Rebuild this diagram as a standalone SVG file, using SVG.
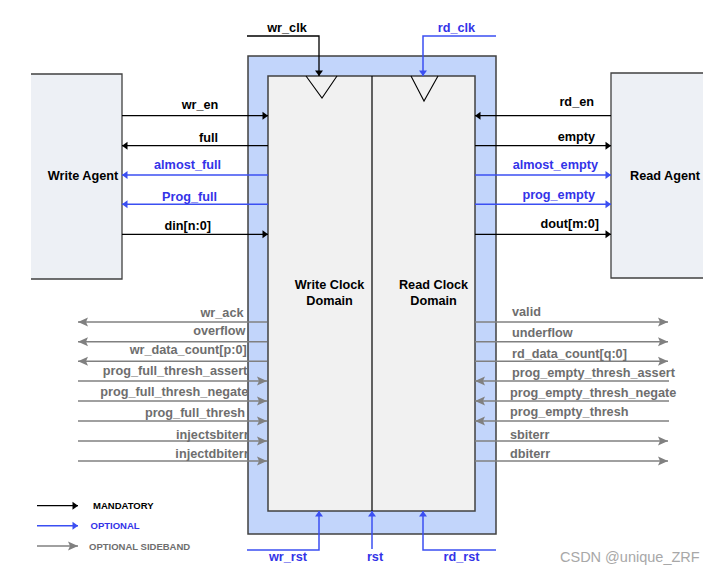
<svg xmlns="http://www.w3.org/2000/svg" width="721" height="575" viewBox="0 0 721 575">
<style>
text{font-family:"Liberation Sans",Arial,sans-serif;font-weight:bold;font-size:12.7px}
.k{fill:#000}
.b{fill:#3333e8}
.g{fill:#6e6e6e}
.lk{stroke:#000;stroke-width:1.3;fill:none}
.lb{stroke:#3b4ff2;stroke-width:1.5;fill:none}
.lg{stroke:#808080;stroke-width:1.6;fill:none}
.mk{marker-end:url(#ak)}
.mb{marker-end:url(#ab)}
.mg{marker-end:url(#ag)}
.leg{font-size:9.5px}
</style>
<defs>
<marker id="ak" markerUnits="userSpaceOnUse" markerWidth="6" markerHeight="9" refX="5.5" refY="4" orient="auto" overflow="visible"><path d="M0,0 L5.5,4 L0,8 z" fill="#000"/></marker>
<marker id="ab" markerUnits="userSpaceOnUse" markerWidth="6" markerHeight="9" refX="5.5" refY="4" orient="auto" overflow="visible"><path d="M0,0 L5.5,4 L0,8 z" fill="#3b4ff2"/></marker>
<marker id="ag" markerUnits="userSpaceOnUse" markerWidth="11" markerHeight="9" refX="10" refY="4.5" orient="auto" overflow="visible"><path d="M0,0 L10,4.5 L0,9 L2,4.5 z" fill="#808080"/></marker>
</defs>
<rect width="721" height="575" fill="#fff"/>

<g id="fifo">
<rect x="248" y="56" width="248" height="478" fill="#c2d5fb" stroke="#404040" stroke-width="1.5"/>
<rect x="268" y="76" width="207" height="435" fill="#f1f1f1" stroke="#404040" stroke-width="1.5"/>
<line x1="372" y1="76" x2="372" y2="511" stroke="#000" stroke-width="1.2"/>
<path d="M306,76 L322,98 L337,76" fill="none" stroke="#000" stroke-width="1.1"/>
<path d="M411,76 L424,101 L438,76" fill="none" stroke="#000" stroke-width="1.1"/>
<text x="329.5" y="289" text-anchor="middle" class="k">Write Clock</text>
<text x="329.5" y="305" text-anchor="middle" class="k">Domain</text>
<text x="433.5" y="289" text-anchor="middle" class="k">Read Clock</text>
<text x="433.5" y="305" text-anchor="middle" class="k">Domain</text>
</g>

<g id="write-agent">
<rect x="31" y="74" width="91" height="205" fill="#edf0f5"/>
<path d="M31,74 H122 V279 H31" fill="none" stroke="#404040" stroke-width="1.3"/>
<text x="83" y="180" text-anchor="middle" class="k">Write Agent</text>
</g>

<g id="read-agent">
<rect x="611" y="73" width="92" height="205" fill="#edf0f5"/>
<path d="M703,73 H611 V278 H703" fill="none" stroke="#404040" stroke-width="1.3"/>
<text x="665" y="180" text-anchor="middle" class="k">Read Agent</text>
</g>

<g id="connectors">
<!-- clocks -->
<path d="M247,36 H319 V76" class="lk mk"/>
<path d="M496,36 H423 V76" class="lb mb"/>
<!-- resets -->
<path d="M247,550 H319 V511" class="lb mb"/>
<path d="M372,549 V511" class="lb mb"/>
<path d="M496,550 H423 V511" class="lb mb"/>
<!-- write side -->
<path d="M122,115.7 H268" class="lk mk"/>
<path d="M268,145.7 H122" class="lk mk"/>
<path d="M268,175 H122" class="lb mb"/>
<path d="M268,204.3 H122" class="lb mb"/>
<path d="M122,234.3 H268" class="lk mk"/>
<!-- read side -->
<path d="M611,115.7 H475" class="lk mk"/>
<path d="M475,145.7 H611" class="lk mk"/>
<path d="M475,175 H611" class="lb mb"/>
<path d="M475,204.3 H611" class="lb mb"/>
<path d="M475,234.3 H611" class="lk mk"/>
<!-- left sideband -->
<path d="M267,322 H78" class="lg mg"/>
<path d="M267,341.7 H78" class="lg mg"/>
<path d="M267,361.3 H78" class="lg mg"/>
<path d="M78,381 H267" class="lg mg"/>
<path d="M78,401 H267" class="lg mg"/>
<path d="M78,421 H267" class="lg mg"/>
<path d="M78,441 H267" class="lg mg"/>
<path d="M78,461 H267" class="lg mg"/>
<!-- right sideband -->
<path d="M475,322 H668" class="lg mg"/>
<path d="M475,341.7 H668" class="lg mg"/>
<path d="M475,361.3 H668" class="lg mg"/>
<path d="M669,381 H475" class="lg mg"/>
<path d="M669,401 H475" class="lg mg"/>
<path d="M669,421 H475" class="lg mg"/>
<path d="M475,441 H668" class="lg mg"/>
<path d="M475,461 H668" class="lg mg"/>
<!-- legend -->
<path d="M37,505.7 H78" class="lk mk"/>
<path d="M37,525.7 H78" class="lb mb"/>
<path d="M37,546 H78" class="lg mg"/>
</g>

<g id="labels">
<text x="287" y="31.7" text-anchor="middle" class="k">wr_clk</text>
<text x="456.5" y="31.7" text-anchor="middle" class="b">rd_clk</text>
<text x="288" y="561" text-anchor="middle" class="b">wr_rst</text>
<text x="375" y="561" text-anchor="middle" class="b">rst</text>
<text x="461.5" y="561" text-anchor="middle" class="b">rd_rst</text>

<text x="200" y="109" text-anchor="middle" class="k">wr_en</text>
<text x="218" y="141.5" text-anchor="end" class="k">full</text>
<text x="221" y="169" text-anchor="end" class="b">almost_full</text>
<text x="217" y="201" text-anchor="end" class="b">Prog_full</text>
<text x="211" y="230" text-anchor="end" class="k">din[n:0]</text>

<text x="594" y="106" text-anchor="end" class="k">rd_en</text>
<text x="595" y="140.7" text-anchor="end" class="k">empty</text>
<text x="598" y="169.3" text-anchor="end" class="b">almost_empty</text>
<text x="595" y="198.7" text-anchor="end" class="b">prog_empty</text>
<text x="599" y="228.3" text-anchor="end" class="k">dout[m:0]</text>

<text x="243.5" y="316.7" text-anchor="end" class="g">wr_ack</text>
<text x="245.3" y="335" text-anchor="end" class="g">overflow</text>
<text x="246.7" y="354.3" text-anchor="end" class="g">wr_data_count[p:0]</text>
<text x="247.3" y="375" text-anchor="end" class="g">prog_full_thresh_assert</text>
<text x="248.3" y="395.7" text-anchor="end" class="g">prog_full_thresh_negate</text>
<text x="245" y="416.7" text-anchor="end" class="g">prog_full_thresh</text>
<text x="248.7" y="439" text-anchor="end" class="g">injectsbiterr</text>
<text x="248.7" y="458.3" text-anchor="end" class="g">injectdbiterr</text>

<text x="512" y="316" class="g">valid</text>
<text x="512" y="336.7" class="g">underflow</text>
<text x="512" y="357.7" class="g">rd_data_count[q:0]</text>
<text x="512" y="376.7" class="g">prog_empty_thresh_assert</text>
<text x="510" y="396.7" class="g">prog_empty_thresh_negate</text>
<text x="510" y="416" class="g">prog_empty_thresh</text>
<text x="510" y="438.7" class="g">sbiterr</text>
<text x="510" y="458.3" class="g">dbiterr</text>
</g>

<g id="legend">
<text x="93" y="509" class="leg k">MANDATORY</text>
<text x="90.5" y="529" class="leg b">OPTIONAL</text>
<text x="89" y="550" class="leg g">OPTIONAL SIDEBAND</text>
</g>

<text x="560" y="562" style="font-weight:normal;font-size:14.5px;fill:#a8a8a8">CSDN @unique_ZRF</text>
</svg>
